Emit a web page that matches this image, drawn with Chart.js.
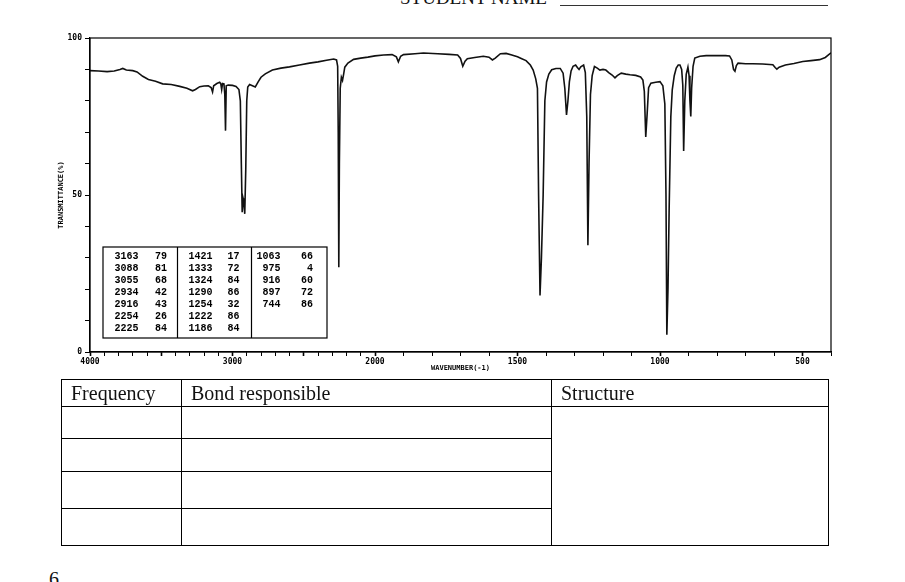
<!DOCTYPE html>
<html>
<head>
<meta charset="utf-8">
<script src="https://cdn.jsdelivr.net/npm/chart.js@4.4.1/dist/chart.umd.min.js"></script>
<style>
  html, body { margin: 0; padding: 0; background: #fff; }
  body { width: 905px; height: 582px; position: relative; overflow: hidden; font-family: "Liberation Serif", "Times New Roman", serif; }
  #name { position: absolute; left: 400px; top: -12px; font-size: 19px; line-height: 19px; color: #111; white-space: nowrap; }
  #nameLine { position: absolute; left: 560px; top: 5px; width: 268px; height: 1px; background: #333; }
  #chartBox { position: absolute; left: 0; top: 0; width: 905px; height: 380px; }
  table.answers { position: absolute; left: 61px; top: 379px; width: 768px; border-collapse: collapse; font-size: 20px; color: #111; }
  table.answers td { border: 1px solid #000; padding: 0 0 0 9px; vertical-align: middle; }
  #page { position: absolute; left: 49px; top: 569px; font-size: 20px; line-height: 20px; color: #111; }
</style>
</head>
<body>
<div id="name">STUDENT NAME</div>
<div id="nameLine"></div>
<div id="chartBox"><canvas id="irChart" width="905" height="380"></canvas></div>
<table class="answers">
  <tr style="height:27px"><td style="width:110px">Frequency</td><td style="width:360px">Bond responsible</td><td>Structure</td></tr>
  <tr style="height:32px"><td></td><td></td><td rowspan="4"></td></tr>
  <tr style="height:33px"><td></td><td></td></tr>
  <tr style="height:37px"><td></td><td></td></tr>
  <tr style="height:37px"><td></td><td></td></tr>
</table>
<div id="page">6</div>

<script>
// Spectrum trace: wavenumber (cm-1) and transmittance (%)
const specWn = [
  4000, 3940, 3880, 3830, 3790, 3770, 3745, 3700, 3670, 3630, 3590, 3540, 3490, 3430, 3370, 3320,
  3280, 3260, 3230, 3200, 3170, 3150, 3140, 3132, 3110, 3090, 3082, 3076, 3070, 3060, 3054, 3049,
  3044, 3030, 3000, 2975, 2955, 2945, 2938, 2932, 2926, 2921, 2914, 2907, 2900, 2893, 2880, 2860,
  2840, 2820, 2800, 2770, 2720, 2660, 2600, 2530, 2460, 2400, 2340, 2290, 2270, 2262, 2258, 2254,
  2250, 2244, 2236, 2228, 2220, 2212, 2190, 2150, 2100, 2050, 2000, 1970, 1940, 1925, 1918, 1910,
  1900, 1860, 1830, 1780, 1740, 1710, 1700, 1692, 1684, 1676, 1650, 1620, 1600, 1588, 1578, 1560,
  1540, 1520, 1500, 1485, 1470, 1455, 1445, 1436, 1430, 1426, 1421, 1416, 1410, 1404, 1398, 1390,
  1380, 1365, 1350, 1340, 1334, 1328, 1323, 1318, 1312, 1305, 1296, 1290, 1284, 1278, 1268, 1262,
  1257, 1253, 1249, 1244, 1238, 1230, 1220, 1211, 1200, 1190, 1180, 1168, 1158, 1150, 1136, 1120,
  1105, 1085, 1068, 1060, 1055, 1050, 1045, 1040, 1032, 1015, 1000, 990, 983, 979, 976, 972,
  968, 962, 957, 950, 943, 936, 930, 924, 920, 917, 913, 908, 902, 898, 895, 892,
  889, 884, 878, 860, 838, 800, 770, 756, 748, 742, 737, 732, 726, 700, 674, 640,
  604, 596, 590, 582, 560, 530, 499, 470, 440, 420, 400
];
const specT = [
  89.6, 89.5, 89.3, 89.5, 90.0, 90.3, 89.8, 89.6, 89.2, 87.8, 86.8, 86.2, 85.4, 85.2, 84.6, 84.0,
  83.2, 83.6, 84.5, 84.7, 84.8, 84.2, 82.8, 84.8, 85.5, 85.9, 85.4, 83.6, 85.5, 85.4, 82.0, 70.5,
  84.8, 85.0, 84.9, 84.6, 83.6, 80.0, 60.0, 44.5, 49.0, 48.0, 44.0, 58.0, 80.0, 84.4, 85.2, 84.8,
  84.4, 86.0, 87.5, 88.6, 89.8, 90.4, 90.8, 91.4, 92.0, 92.4, 92.9, 93.3, 93.0, 91.0, 70.0, 27.0,
  60.0, 84.0, 87.5, 86.5, 88.5, 90.7, 92.0, 93.2, 93.6, 93.9, 94.3, 94.6, 94.7, 94.0, 92.4, 94.2,
  94.7, 95.0, 95.2, 95.0, 94.8, 94.6, 93.5, 91.0, 92.6, 93.4, 93.8, 94.2, 93.9, 93.0, 93.6, 95.0,
  95.1, 94.6, 94.0, 93.4, 92.8, 91.4, 89.8, 87.0, 84.0, 50.0, 18.0, 30.0, 50.0, 80.0, 86.0, 88.5,
  89.9, 90.3, 90.3, 88.8, 84.0, 75.5, 80.0, 86.0, 89.5, 91.0, 91.4, 90.6, 90.0, 90.8, 91.4, 89.0,
  75.0, 34.0, 60.0, 82.0, 88.0, 90.9, 90.4, 89.8, 90.0, 89.8, 89.0, 88.2, 87.3, 88.0, 88.8, 88.5,
  88.3, 88.1, 87.6, 86.6, 83.0, 68.5, 76.0, 84.2, 85.6, 85.9, 86.1, 84.8, 79.0, 50.0, 5.5, 20.0,
  45.0, 75.0, 83.5, 88.0, 90.4, 91.4, 91.4, 90.0, 85.0, 64.0, 80.0, 88.4, 90.7, 88.0, 80.0, 75.0,
  84.0, 91.0, 93.6, 94.2, 94.4, 94.4, 94.4, 94.3, 93.0, 90.0, 89.4, 91.2, 92.0, 91.8, 91.8, 91.7,
  91.5, 90.6, 90.1, 90.7, 91.4, 91.9, 92.5, 92.8, 93.1, 93.8, 95.3
];

// Peak list printed in the box
const peakWn = [3163, 3088, 3055, 2934, 2916, 2254, 2225, 1421, 1333, 1324, 1290, 1254, 1222, 1186, 1063, 975, 916, 897, 744];
const peakT = [79, 81, 68, 42, 43, 26, 84, 17, 72, 84, 86, 32, 86, 84, 66, 4, 60, 72, 86];
const peakRowsPerCol = 7;

// Axis: labelled wavenumbers and tick wavenumbers
const xLabelWn = [4000, 3000, 2000, 1500, 1000, 500];
const xMajorWn = [4000, 3500, 3000, 2500, 2000, 1500, 1000, 500];
const yLabelT = [0, 50, 100];

// the scan uses a scale change at 2000 cm-1 (1000 cm-1 per unit above, 500 below)
function toU(wn) {
  return wn >= 2000 ? (4000 - wn) / 1000 : 2 + (2000 - wn) / 500;
}
function fromU(u) {
  return u <= 2 ? 4000 - u * 1000 : 2000 - (u - 2) * 500;
}

const xTickWn = [];
for (let w = 4000; w >= 2000; w -= 100) xTickWn.push(w);
for (let w = 1900; w >= 400; w -= 100) xTickWn.push(w);

const spectrum = specWn.map((w, i) => ({ x: toU(w), y: specT[i] }));

const monoFont = '"DejaVu Sans Mono", "Liberation Mono", monospace';

// frame + peak table drawn on top of the chart
const framePlugin = {
  id: 'frame',
  afterDraw(chart) {
    const ctx = chart.ctx;
    const a = chart.chartArea;
    ctx.save();
    ctx.strokeStyle = '#000';
    ctx.lineWidth = 1.2;
    ctx.strokeRect(a.left, a.top, a.right - a.left, a.bottom - a.top);

    // peak table box
    const bx = 103, by = 247, bw = 224, bh = 91;
    ctx.fillStyle = '#fff';
    ctx.fillRect(bx, by, bw, bh);
    ctx.lineWidth = 1.2;
    ctx.strokeRect(bx, by, bw, bh);
    ctx.beginPath();
    ctx.moveTo(177.5, by); ctx.lineTo(177.5, by + bh);
    ctx.moveTo(251.5, by); ctx.lineTo(251.5, by + bh);
    ctx.stroke();

    ctx.fillStyle = '#000';
    ctx.font = 'bold 10px "Liberation Mono", monospace';
    ctx.textBaseline = 'middle';
    ctx.textAlign = 'right';
    const wnRight = [138.5, 212.5, 280.5];
    const tRight = [167, 239.5, 313];
    peakWn.forEach((w, i) => {
      const col = Math.floor(i / peakRowsPerCol);
      const row = i % peakRowsPerCol;
      const y = 256 + row * 12.15;
      ctx.fillText(String(w), wnRight[col], y);
      ctx.fillText(String(peakT[i]), tRight[col], y);
    });
    ctx.restore();
  }
};

new Chart(document.getElementById('irChart'), {
  type: 'line',
  data: {
    datasets: [{
      data: spectrum,
      borderColor: '#111',
      borderWidth: 1.6,
      pointRadius: 0,
      tension: 0,
      fill: false
    }]
  },
  options: {
    responsive: false,
    animation: false,
    devicePixelRatio: 1,
    layout: { padding: { left: 52, right: 74, top: 38, bottom: 0 } },
    plugins: { legend: { display: false }, tooltip: { enabled: false } },
    scales: {
      x: {
        type: 'linear',
        min: 0,
        max: toU(400),
        afterBuildTicks: (scale) => {
          scale.ticks = xTickWn.map(w => ({ value: toU(w) }));
        },
        afterFit: (scale) => { scale.height = 28; },
        ticks: {
          autoSkip: false,
          maxRotation: 0,
          padding: 1,
          color: '#000',
          font: { family: monoFont, size: 8, weight: 'bold' },
          callback: (value) => {
            const w = Math.round(fromU(value));
            return xLabelWn.includes(w) ? String(w) : '';
          }
        },
        grid: {
          drawOnChartArea: false,
          tickLength: 4,
          color: '#000',
          tickWidth: (c) => {
            const w = c.tick ? Math.round(fromU(c.tick.value)) : 0;
            return xMajorWn.includes(w) ? 1.6 : 1;
          }
        },
        border: { color: '#000', width: 1.2 },
        title: {
          display: true,
          text: 'WAVENUMBER(-1)',
          color: '#000',
          font: { family: monoFont, size: 7, weight: 'bold' },
          padding: { top: 0, bottom: 8 }
        }
      },
      y: {
        min: 0,
        max: 100,
        afterFit: (scale) => { scale.width = 38; },
        ticks: {
          stepSize: 10,
          padding: 3,
          color: '#000',
          font: { family: monoFont, size: 8, weight: 'bold' },
          callback: (v) => yLabelT.includes(v) ? String(v) : ''
        },
        grid: { drawOnChartArea: false, tickLength: 5, color: '#000' },
        border: { color: '#000', width: 1.2 },
        title: {
          display: true,
          text: 'TRANSMITTANCE(%)',
          color: '#000',
          font: { family: monoFont, size: 7, weight: 'bold' },
          padding: { top: 5, bottom: 0 }
        }
      }
    }
  },
  plugins: [framePlugin]
});
</script>
</body>
</html>
